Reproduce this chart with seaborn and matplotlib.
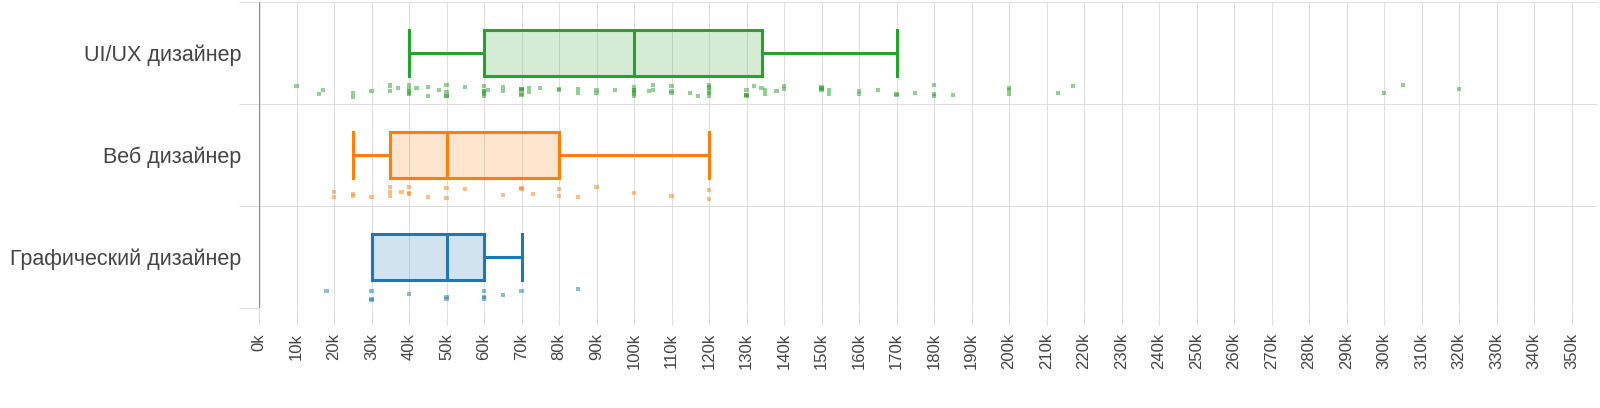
import matplotlib
matplotlib.use("Agg")
import matplotlib.pyplot as plt
import numpy as np
import pandas as pd
import seaborn as sns
from matplotlib.colors import to_rgba

roles = ["UI/UX дизайнер", "Веб дизайнер", "Графический дизайнер"]
colors = ["#2ca02c", "#ff7f0e", "#1f77b4"]

# salaries, thousands
uiux_salaries = [10, 16, 17, 25, 25, 30, 35, 35, 37, 40, 40, 40, 40, 40, 42, 45, 45, 48,
                 50, 50, 50, 50, 55, 60, 60, 60, 60, 60, 60, 61, 65, 65, 70, 70, 70, 70,
                 70, 72, 72, 75, 80, 80, 85, 85, 90, 90, 95, 100, 100, 100, 100, 100, 100,
                 104, 105, 105, 110, 110, 110, 115, 117, 120, 120, 120, 120, 120, 120,
                 130, 130, 130, 130, 132, 134, 135, 135, 138, 140, 140, 150, 150, 150, 150,
                 152, 152, 160, 160, 165, 170, 170, 175, 180, 180, 180, 185, 200, 200, 200,
                 213, 217, 300, 305, 320]
web_salaries = [20, 20, 25, 25, 30, 35, 35, 35, 38, 40, 40, 40, 45, 50, 50, 55, 65, 70, 70,
                73, 80, 80, 85, 90, 100, 110, 120, 120]
graphic_salaries = [18, 30, 30, 30, 40, 50, 50, 60, 60, 60, 65, 70, 85]

# lower whisker, q1, median, q3, upper whisker
uiux_box = [40, 60, 100, 134, 170]
web_box = [25, 35, 50, 80, 120]
graphic_box = [30, 30, 50, 60, 70]

x_ticks = list(range(0, 351, 10))
x_tick_labels = [f"{t}k" for t in x_ticks]

plt.rcParams["font.family"] = ["Liberation Sans", "DejaVu Sans"]
grid_color = "#dedede"
text_color = "#444444"

salaries = [uiux_salaries, web_salaries, graphic_salaries]
df = pd.DataFrame({
    "role": np.repeat(roles, [len(s) for s in salaries]),
    "salary": np.concatenate(salaries),
})
# points sit in a strip just below each box
df["row"] = df["role"].map({r: i for i, r in enumerate(roles)}) + 0.37

fig = plt.figure(figsize=(16, 4.08), dpi=100)
ax = fig.add_axes([259 / 1600, 100 / 408, 1338 / 1600, 306 / 408])

np.random.seed(7)
sns.stripplot(data=df, x="salary", y="row", hue="role", orient="h",
              palette=dict(zip(roles, colors)), native_scale=True, jitter=0.06,
              marker="s", size=2.9, alpha=0.5, linewidth=0, legend=False, ax=ax)

boxes = [uiux_box, web_box, graphic_box]
for i, (role, b, c) in enumerate(zip(roles, boxes, colors)):
    st = dict(label=role, whislo=b[0], q1=b[1], med=b[2], q3=b[3], whishi=b[4], fliers=[])
    line = dict(color=c, linewidth=2.2)
    ax.bxp([st], positions=[i], widths=0.45, capwidths=0.45, orientation="horizontal",
           patch_artist=True, showfliers=False, manage_ticks=False,
           boxprops=dict(facecolor=to_rgba(c, 0.2), edgecolor=c, linewidth=2.2),
           whiskerprops=line, capprops=line, medianprops=line)

ax.set_xlim(0, 356.8)
ax.set_ylim(2.5, -0.5)
ax.set_xlabel("")
ax.set_ylabel("")

ax.set_xticks(x_ticks, x_tick_labels, rotation=90)
ax.tick_params(axis="x", length=12, width=0.75, color=grid_color,
               labelsize=12, labelcolor=text_color, pad=6)
ax.set_yticks(range(len(roles)), roles)
ax.set_yticks([-0.5, 0.5, 1.5, 2.5], minor=True)
ax.tick_params(axis="y", which="major", length=0, labelsize=15.5,
               labelcolor=text_color, pad=12.5)
ax.tick_params(axis="y", which="minor", length=14.4, width=0.75, color=grid_color)

ax.set_axisbelow(True)
ax.grid(axis="x", which="major", color=grid_color, linewidth=0.75)
ax.grid(axis="y", which="minor", color=grid_color, linewidth=0.75)
ax.axvline(0, color="#8c8c8c", linewidth=1, zorder=1)
ax.xaxis.get_major_ticks()[0].tick1line.set_color("#8c8c8c")

for s in ax.spines.values():
    s.set_visible(False)

fig.savefig("out.png", dpi=100)
